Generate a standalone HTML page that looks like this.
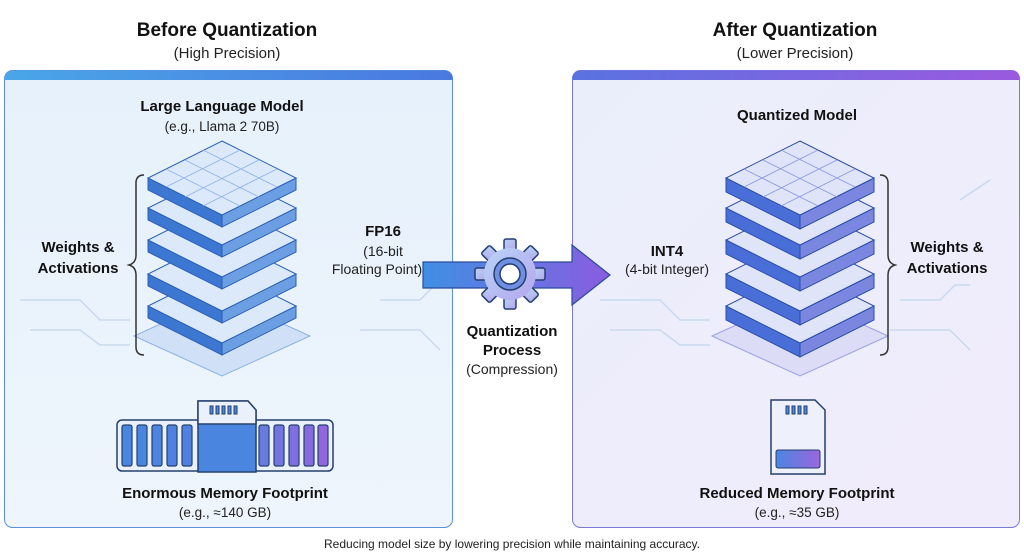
<!DOCTYPE html>
<html><head><meta charset="utf-8"><style>
body{margin:0;background:#fff;}
svg{display:block;font-family:"Liberation Sans",sans-serif;}
</style></head><body>
<svg width="1024" height="559" viewBox="0 0 1024 559" xmlns="http://www.w3.org/2000/svg">
<defs>
<linearGradient id="gl" x1="0" x2="1"><stop offset="0" stop-color="#4aa6e8"/><stop offset="1" stop-color="#4a78e0"/></linearGradient>
<linearGradient id="gr" x1="0" x2="1"><stop offset="0" stop-color="#5a72e0"/><stop offset="1" stop-color="#9a5ae0"/></linearGradient>
<linearGradient id="bgl" x1="0" y1="0" x2="0" y2="1"><stop offset="0" stop-color="#e6f1fb"/><stop offset="1" stop-color="#eef5fc"/></linearGradient>
<linearGradient id="bgr" x1="0" y1="0" x2="1" y2="1"><stop offset="0" stop-color="#eaeefb"/><stop offset="1" stop-color="#f1ecfb"/></linearGradient>
<linearGradient id="mem" x1="0" x2="1"><stop offset="0" stop-color="#4a86e0"/><stop offset="1" stop-color="#9a66de"/></linearGradient>
<linearGradient id="arr" x1="0" x2="1"><stop offset="0" stop-color="#3f8fe4"/><stop offset="1" stop-color="#8a5ce0"/></linearGradient>
<linearGradient id="gear" x1="0" y1="0" x2="1" y2="1"><stop offset="0" stop-color="#b8d4f6"/><stop offset="1" stop-color="#b4a6ee"/></linearGradient>
</defs>
<text x="227" y="36" font-size="19" font-weight="bold" text-anchor="middle" fill="#111">Before Quantization</text>
<text x="227" y="58" font-size="15" text-anchor="middle" fill="#222">(High Precision)</text>
<text x="795" y="36" font-size="19" font-weight="bold" text-anchor="middle" fill="#111">After Quantization</text>
<text x="795" y="58" font-size="15" text-anchor="middle" fill="#222">(Lower Precision)</text>

<rect x="4.5" y="70.5" width="448" height="457" rx="8" fill="url(#bgl)" stroke="#5b8fd8"/>
<path d="M4.5 80 a8 8 0 0 1 8-9.5 h432 a8 8 0 0 1 8 9.5 z" fill="url(#gl)"/>
<rect x="572.5" y="70.5" width="447" height="457" rx="8" fill="url(#bgr)" stroke="#7a78d8"/>
<path d="M572.5 80 a8 8 0 0 1 8-9.5 h431 a8 8 0 0 1 8 9.5 z" fill="url(#gr)"/>

<g stroke="#c9d9ee" fill="none" stroke-width="1.5">
<path d="M20 300 h60 l20 20 h30 M30 330 h50 l20 15 h30 M380 300 h40 l15-15 h15 M360 330 h60 l20 20"/>
<path d="M600 300 h60 l20 20 h30 M610 330 h50 l20 15 h30 M900 300 h40 l15-15 h15 M890 330 h60 l20 20 M960 200 l30-20"/>
</g>

<text x="222" y="111" font-size="15" font-weight="bold" text-anchor="middle" fill="#111">Large Language Model</text>
<text x="222" y="131" font-size="13.5" text-anchor="middle" fill="#222">(e.g., Llama 2 70B)</text>

<path d="M222 296 L310 336 L222 376 L134 336 Z" fill="#cfe0f7" stroke="#8cb1e6"/>
<g>
<g stroke="#2a5fb5" stroke-width="1">
<path d="M148 306 L222 343 L222 355 L148 318 Z" fill="#3c78d2"/>
<path d="M296 306 L222 343 L222 355 L296 318 Z" fill="#6c9ee3"/>
<path d="M222 269 L296 306 L222 343 L148 306 Z" fill="#dbe9fa"/>
</g>
<g stroke="#2a5fb5" stroke-width="1">
<path d="M148 274 L222 311 L222 323 L148 286 Z" fill="#3c78d2"/>
<path d="M296 274 L222 311 L222 323 L296 286 Z" fill="#6c9ee3"/>
<path d="M222 237 L296 274 L222 311 L148 274 Z" fill="#dbe9fa"/>
</g>
<g stroke="#2a5fb5" stroke-width="1">
<path d="M148 240 L222 277 L222 289 L148 252 Z" fill="#3c78d2"/>
<path d="M296 240 L222 277 L222 289 L296 252 Z" fill="#6c9ee3"/>
<path d="M222 203 L296 240 L222 277 L148 240 Z" fill="#dbe9fa"/>
</g>
<g stroke="#2a5fb5" stroke-width="1">
<path d="M148 208 L222 245 L222 257 L148 220 Z" fill="#3c78d2"/>
<path d="M296 208 L222 245 L222 257 L296 220 Z" fill="#6c9ee3"/>
<path d="M222 171 L296 208 L222 245 L148 208 Z" fill="#dbe9fa"/>
</g>
<g stroke="#2a5fb5" stroke-width="1">
<path d="M148 178 L222 215 L222 227 L148 190 Z" fill="#3c78d2"/>
<path d="M296 178 L222 215 L222 227 L296 190 Z" fill="#6c9ee3"/>
<path d="M222 141 L296 178 L222 215 L148 178 Z" fill="#dbe9fa"/>
</g>
<g stroke="#8fb3e6" stroke-width="0.8">
<path d="M166 169 L240 206 M185 160 L259 197 M203 150 L277 187 M166 187 L240 150 M185 197 L259 160 M203 206 L277 169"/>
</g>
</g>
<path d="M144 175 q-8 0 -8 8 v72 q0 8 -7 10 q7 2 7 10 v72 q0 8 8 8" fill="none" stroke="#333" stroke-width="1.5"/>
<text x="78" y="252" font-size="15" font-weight="bold" text-anchor="middle" fill="#111">Weights &amp;</text>
<text x="78" y="273" font-size="15" font-weight="bold" text-anchor="middle" fill="#111">Activations</text>
<text x="383" y="236" font-size="15" font-weight="bold" text-anchor="middle" fill="#111">FP16</text>
<text x="383" y="256" font-size="14" text-anchor="middle" fill="#222">(16-bit</text>
<text x="377" y="274" font-size="14" text-anchor="middle" fill="#222">Floating Point)</text>

<rect x="117" y="420" width="216" height="51" rx="5" fill="#eaf1fb" stroke="#25406e" stroke-width="1.5"/>
<g stroke="#25406e" stroke-width="1.2">
<rect x="122" y="425" width="10" height="41" rx="2" fill="#4a86e0"/><rect x="137" y="425" width="10" height="41" rx="2" fill="#4a86e0"/><rect x="152" y="425" width="10" height="41" rx="2" fill="#4c84e0"/><rect x="167" y="425" width="10" height="41" rx="2" fill="#4e82e0"/><rect x="182" y="425" width="10" height="41" rx="2" fill="#5080e0"/>
<rect x="259" y="425" width="10" height="41" rx="2" fill="#6a7ae0"/><rect x="274" y="425" width="10" height="41" rx="2" fill="#7474e0"/><rect x="289" y="425" width="10" height="41" rx="2" fill="#7e6ee0"/><rect x="304" y="425" width="10" height="41" rx="2" fill="#886ae0"/><rect x="318" y="425" width="10" height="41" rx="2" fill="#9266de"/>
</g>
<path d="M198 401 h50 l8 9 v62 h-58 z" fill="#4a86e0" stroke="#25406e" stroke-width="1.5"/>
<path d="M198 401 h50 l8 9 v14 h-58 z" fill="#eaf1fb" stroke="#25406e" stroke-width="1.5"/>
<g fill="#4a86e0" stroke="#25406e"><rect x="210" y="406" width="3" height="8"/><rect x="216" y="406" width="3" height="8"/><rect x="222" y="406" width="3" height="8"/><rect x="228" y="406" width="3" height="8"/><rect x="234" y="406" width="3" height="8"/></g>
<text x="225" y="498" font-size="15" font-weight="bold" text-anchor="middle" fill="#111">Enormous Memory Footprint</text>
<text x="225" y="517" font-size="13.5" text-anchor="middle" fill="#222">(e.g., ≈140 GB)</text>

<!-- arrow -->
<path d="M423 262 h149 v-17 l38 30 l-38 30 v-17 h-149 z" fill="url(#arr)" stroke="#2a4c9a" stroke-width="1.2"/>
<g transform="translate(510,274)">
<g fill="url(#gear)" stroke="#25406e" stroke-width="1.5">
<rect x="-6" y="-35" width="12" height="12" rx="2"/><rect x="-6" y="23" width="12" height="12" rx="2"/><rect x="-35" y="-6" width="12" height="12" rx="2"/><rect x="23" y="-6" width="12" height="12" rx="2"/>
<rect x="-6" y="-35" width="12" height="12" rx="2" transform="rotate(45)"/><rect x="-6" y="23" width="12" height="12" rx="2" transform="rotate(45)"/><rect x="-35" y="-6" width="12" height="12" rx="2" transform="rotate(45)"/><rect x="23" y="-6" width="12" height="12" rx="2" transform="rotate(45)"/>
</g>
<circle r="26" fill="url(#gear)"/>
<circle r="16" fill="#6f8fe4" stroke="#25406e" stroke-width="1.5"/>
<circle r="10" fill="#fff" stroke="#25406e" stroke-width="1.5"/>
</g>
<text x="512" y="336" font-size="15" font-weight="bold" text-anchor="middle" fill="#111">Quantization</text>
<text x="512" y="355" font-size="15" font-weight="bold" text-anchor="middle" fill="#111">Process</text>
<text x="512" y="374" font-size="14" text-anchor="middle" fill="#222">(Compression)</text>

<text x="797" y="120" font-size="15" font-weight="bold" text-anchor="middle" fill="#111">Quantized Model</text>
<path d="M800 296 L888 336 L800 376 L712 336 Z" fill="#dcdcf6" stroke="#9aa0e4"/>
<g>
<g stroke="#2b4ea8"><path d="M726 306 L800 343 L800 357 L726 320 Z" fill="#4a6ed8"/><path d="M874 306 L800 343 L800 357 L874 320 Z" fill="#7a86e0"/><path d="M800 269 L874 306 L800 343 L726 306 Z" fill="#e0e4f8"/></g>
<g stroke="#2b4ea8"><path d="M726 274 L800 311 L800 325 L726 288 Z" fill="#4a6ed8"/><path d="M874 274 L800 311 L800 325 L874 288 Z" fill="#7a86e0"/><path d="M800 237 L874 274 L800 311 L726 274 Z" fill="#e0e4f8"/></g>
<g stroke="#2b4ea8"><path d="M726 240 L800 277 L800 291 L726 254 Z" fill="#4a6ed8"/><path d="M874 240 L800 277 L800 291 L874 254 Z" fill="#7a86e0"/><path d="M800 203 L874 240 L800 277 L726 240 Z" fill="#e0e4f8"/></g>
<g stroke="#2b4ea8"><path d="M726 208 L800 245 L800 259 L726 222 Z" fill="#4a6ed8"/><path d="M874 208 L800 245 L800 259 L874 222 Z" fill="#7a86e0"/><path d="M800 171 L874 208 L800 245 L726 208 Z" fill="#e0e4f8"/></g>
<g stroke="#2b4ea8"><path d="M726 178 L800 215 L800 229 L726 192 Z" fill="#4a6ed8"/><path d="M874 178 L800 215 L800 229 L874 192 Z" fill="#7a86e0"/><path d="M800 141 L874 178 L800 215 L726 178 Z" fill="#e0e4f8"/></g>
<g stroke="#8a96e0" stroke-width="0.8"><path d="M744 169 L818 206 M763 160 L837 197 M781 150 L855 187 M744 187 L818 150 M763 197 L837 160 M781 206 L855 169"/></g>
</g>
<path d="M880 175 q8 0 8 8 v72 q0 8 7 10 q-7 2 -7 10 v72 q0 8 -8 8" fill="none" stroke="#333" stroke-width="1.5"/>
<text x="947" y="252" font-size="15" font-weight="bold" text-anchor="middle" fill="#111">Weights &amp;</text>
<text x="947" y="273" font-size="15" font-weight="bold" text-anchor="middle" fill="#111">Activations</text>
<text x="667" y="256" font-size="15" font-weight="bold" text-anchor="middle" fill="#111">INT4</text>
<text x="667" y="274" font-size="14" text-anchor="middle" fill="#222">(4-bit Integer)</text>

<path d="M771 400 h44 l10 10 v64 h-54 z" fill="#eef0fb" stroke="#25406e" stroke-width="1.5"/>
<g fill="#4a86e0" stroke="#25406e"><rect x="786" y="406" width="3" height="8"/><rect x="792" y="406" width="3" height="8"/><rect x="798" y="406" width="3" height="8"/><rect x="804" y="406" width="3" height="8"/></g>
<rect x="776" y="450" width="44" height="18" rx="2" fill="url(#mem)" stroke="#25406e"/>
<text x="797" y="498" font-size="15" font-weight="bold" text-anchor="middle" fill="#111">Reduced Memory Footprint</text>
<text x="797" y="517" font-size="13.5" text-anchor="middle" fill="#222">(e.g., ≈35 GB)</text>

<text x="512" y="548" font-size="12" text-anchor="middle" fill="#222">Reducing model size by lowering precision while maintaining accuracy.</text>
</svg>
</body></html>
